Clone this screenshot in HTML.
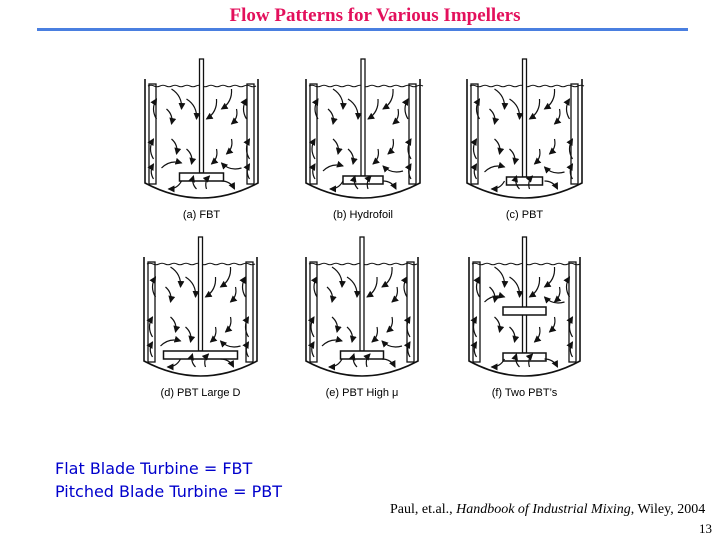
<!DOCTYPE html>
<html><head><meta charset="utf-8"><style>
body{margin:0;width:720px;height:540px;background:#fff;position:relative;overflow:hidden;font-family:"Liberation Sans",sans-serif}
.t{position:absolute;top:5px;left:0;width:750px;text-align:center;font:bold 19px "Liberation Serif",serif;color:#e3105c}
.bar{position:absolute;left:37px;top:28px;width:651px;height:3px;background:#4a7fe0}
.leg{position:absolute;left:55px;top:457px;font:16px "DejaVu Sans",sans-serif;line-height:23px;color:#0000cc}
.ref{position:absolute;left:390px;top:502px;font:14px "Liberation Serif",serif}
.pg{position:absolute;left:699px;top:521px;font:13px "Liberation Serif",serif}
</style></head><body>
<div class="t">Flow Patterns for Various Impellers</div>
<div class="bar"></div>
<svg id="s" width="720" height="540" style="position:absolute;left:0;top:0">
<defs><marker id="m" markerWidth="7" markerHeight="7" refX="6" refY="3.5" orient="auto" markerUnits="userSpaceOnUse"><path d="M0,0 L7,3.5 L0,7z" fill="#111"/></marker></defs>
</svg>
<div class="leg">Flat Blade Turbine = FBT<br>Pitched Blade Turbine = PBT</div>
<div class="ref">Paul, et.al., <i>Handbook of Industrial Mixing</i>, Wiley, 2004</div>
<div class="pg">13</div>
<script>
var s=document.getElementById('s'),ns='http://www.w3.org/2000/svg';
function el(t,a){var e=document.createElementNS(ns,t);for(var k in a)e.setAttribute(k,a[k]);s.appendChild(e);return e;}
function tank(x0,y0,w,lab,imps){
 var wt=y0+20,bot=y0+146,cx=x0+w/2,st='#111';
 el('path',{d:'M'+x0+','+wt+' L'+x0+','+(bot-22)+' Q'+cx+','+(bot+8)+' '+(x0+w)+','+(bot-22)+' L'+(x0+w)+','+wt,fill:'none',stroke:st,'stroke-width':1.6});
 var d='M'+(x0+3)+','+(y0+27);for(var i=0;i<=w-6;i+=6)d+=' q3,'+(i%12?1.5:-1.5)+' 6,0';
 el('path',{d:d,fill:'none',stroke:st,'stroke-width':1});
 el('rect',{x:x0+4,y:y0+25,width:7,height:100,fill:'none',stroke:st,'stroke-width':1.3});
 el('rect',{x:x0+w-11,y:y0+25,width:7,height:100,fill:'none',stroke:st,'stroke-width':1.3});
 var last=imps[imps.length-1];
 el('rect',{x:cx-2,y:y0,width:4,height:last[0]-y0,fill:'#fff',stroke:st,'stroke-width':1.3});
 imps.forEach(function(p){el('rect',{x:cx-p[1]/2,y:p[0],width:p[1],height:8,fill:'#fff',stroke:st,'stroke-width':1.5});});
 var iy=imps[0][0];
 var A=[[-30,30,-20,50],[-15,40,-5,60],[15,40,5,60],[30,30,20,50],[-45,60,-45,40],[45,60,45,40],[-40,iy-y0-5,-20,iy-y0-10],[40,iy-y0-5,20,iy-y0-10],[-20,122,-33,130],[20,122,33,130],[-5,130,-8,117],[5,130,8,117],[-48,100,-48,80],[48,100,48,80],[-30,80,-25,95],[30,80,25,95],[-48,120,-48,105],[48,120,48,105],[-35,50,-30,65],[35,50,30,65],[-15,90,-10,105],[15,90,10,105]];
 A.forEach(function(a){var x1=cx+a[0],y1=y0+a[1],x2=cx+a[2],y2=y0+a[3];
  el('path',{d:'M'+x1+','+y1+' Q'+((x1+x2)/2+(y2-y1)*0.3)+','+((y1+y2)/2-(x2-x1)*0.3)+' '+x2+','+y2,fill:'none',stroke:'#111','stroke-width':1.2,'marker-end':'url(#m)'});});
 var t=el('text',{x:cx,y:bot+13,'text-anchor':'middle','font-family':'Liberation Sans,sans-serif','font-size':11});t.textContent=lab;
}
tank(145,59,113,'(a) FBT',[[173,44]]);
tank(306,59,114,'(b) Hydrofoil',[[176,40]]);
tank(467,59,115,'(c) PBT',[[177,36]]);
tank(144,237,113,'(d) PBT Large D',[[351,74]]);
tank(306,237,112,'(e) PBT High μ',[[351,43]]);
tank(469,237,111,'(f) Two PBT\u2019s',[[307,43],[353,43]]);
</script>
</body></html>
